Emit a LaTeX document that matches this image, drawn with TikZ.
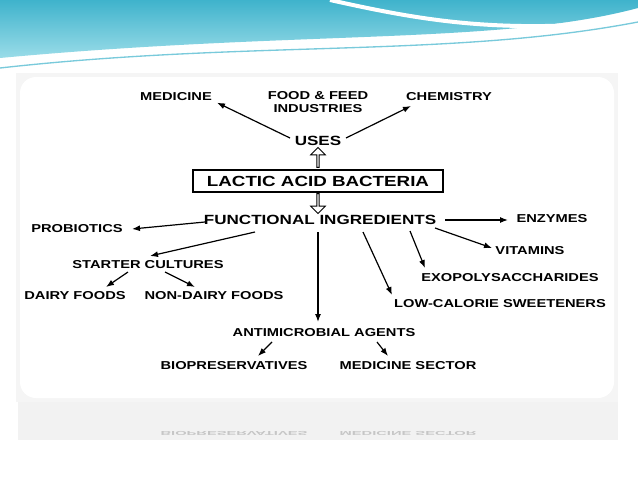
\documentclass[tikz,border=0pt]{standalone}
\usepackage{fontspec}
\setmainfont{Liberation Sans}
\usetikzlibrary{shapes.arrows,arrows.meta}
\definecolor{teal1}{HTML}{3FB3CC}
\definecolor{teal2}{HTML}{9ADCE8}
\begin{document}
\begin{tikzpicture}[x=0.75pt,y=-0.75pt,
  lbl/.style={font=\bfseries\fontsize{8.6}{9.5}\selectfont, inner sep=1pt, align=center, xscale=1.28},
  arr/.style={-{Latex[length=6pt,width=4.5pt]}, line width=0.9pt},
  hollow/.style={single arrow, draw, line width=0.7pt, minimum height=15pt, minimum width=11pt, single arrow head extend=2pt, inner sep=0pt}]
\useasboundingbox (0,0) rectangle (638,478);
\fill[white] (0,0) rectangle (638,478);
% banner
\shade[top color=teal1, bottom color=teal2] (0,0) -- (638,0) -- (638,8) .. controls (500,45) and (300,30) .. (0,58) -- cycle;
\fill[white,opacity=0.8] (0,62) .. controls (250,30) and (450,50) .. (638,12) -- (638,16) .. controls (450,55) and (250,38) .. (0,66) -- cycle;
\draw[white, line width=3pt] (330,0) .. controls (420,20) and (500,35) .. (638,20);
\draw[teal1!70, line width=1pt] (0,68) .. controls (250,40) and (450,58) .. (638,22);
% panel
\fill[gray!8] (16,73) rectangle (618,402);
\fill[white, rounded corners=12pt] (20,77) rectangle (614,398);
% reflection
\fill[gray!10] (18,402) rectangle (618,440);
\node[lbl, text=gray!45, yscale=-0.5] at (234,433) {BIOPRESERVATIVES};
\node[lbl, text=gray!45, yscale=-0.5] at (408,433) {MEDICINE SECTOR};
% nodes
\node[lbl] (med) at (176,97) {MEDICINE};
\node[lbl] (food) at (318,102) {FOOD \& FEED\\INDUSTRIES};
\node[lbl] (chem) at (449,97) {CHEMISTRY};
\node[lbl, font=\bfseries\fontsize{10}{11}\selectfont] (uses) at (318,141) {USES};
\node[hollow, shape border rotate=90] (up) at (318,158) {};
\node[draw, line width=1.4pt, minimum width=250*0.75pt, minimum height=22*0.75pt] (lab) at (318,181) {};
\node[lbl, font=\bfseries\fontsize{11}{12}\selectfont] at (lab) {LACTIC ACID BACTERIA};
\node[hollow, shape border rotate=270] (down) at (318,203) {};
\node[lbl, font=\bfseries\fontsize{10}{11}\selectfont] (fi) at (320,220) {FUNCTIONAL INGREDIENTS};
\node[lbl] (pro) at (77,229) {PROBIOTICS};
\node[lbl] (enz) at (552,219) {ENZYMES};
\node[lbl] (vit) at (530,251) {VITAMINS};
\node[lbl] (exo) at (510,278) {EXOPOLYSACCHARIDES};
\node[lbl] (low) at (500,304) {LOW-CALORIE SWEETENERS};
\node[lbl] (sc) at (148,265) {STARTER CULTURES};
\node[lbl] (dairy) at (75,296) {DAIRY FOODS};
\node[lbl] (nd) at (214,296) {NON-DAIRY FOODS};
\node[lbl] (anti) at (324,333) {ANTIMICROBIAL AGENTS};
\node[lbl] (bio) at (234,366) {BIOPRESERVATIVES};
\node[lbl] (ms) at (408,366) {MEDICINE SECTOR};
% connector end points
\coordinate (u1) at (290,138); \coordinate (u2) at (346,138);
\coordinate (f1) at (205,222); \coordinate (f2) at (445,220);
\coordinate (f3) at (435,228); \coordinate (f4) at (410,231);
\coordinate (f5) at (363,232); \coordinate (f6) at (318,232);
\coordinate (f7) at (255,232);
\coordinate (s1) at (128,272); \coordinate (s2) at (165,272);
\coordinate (a1) at (272,342); \coordinate (a2) at (377,342);
% arrows
\draw[arr] (u1) -- (med.south east -| 217,0) ;
\draw[arr] (u2) -- (411,106);
\draw[arr] (f1) -- (132,229);
\draw[arr] (f2) -- (508,220);
\draw[arr] (f3) -- (492,248);
\draw[arr] (f4) -- (425,268);
\draw[arr] (f5) -- (392,295);
\draw[arr] (f6) -- (318,322);
\draw[arr] (f7) -- (150,256);
\draw[arr] (s1) -- (106,287);
\draw[arr] (s2) -- (195,287);
\draw[arr] (a1) -- (258,356);
\draw[arr] (a2) -- (388,356);
\end{tikzpicture}
\end{document}
